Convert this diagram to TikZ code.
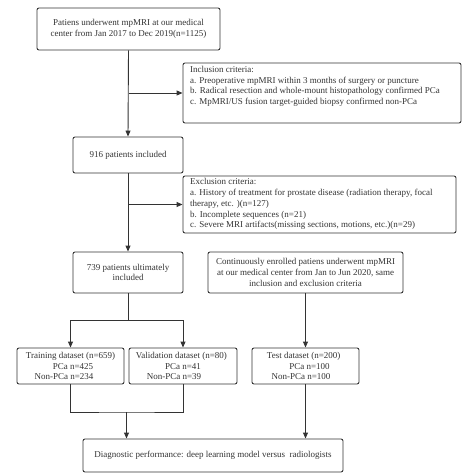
\documentclass[tikz,border=0pt]{standalone}
\usepackage{fontspec}
\setmainfont{Liberation Serif}
\usetikzlibrary{arrows.meta,positioning,calc}
\definecolor{ink}{HTML}{333333}
\begin{document}
\begin{tikzpicture}[x=1pt,y=-1pt,
  box/.style={draw=ink,line width=0.9pt,rounded corners=2pt,inner sep=2pt,align=center,text=ink,font=\fontsize{9}{10.7}\selectfont},
  txt/.style={inner sep=0pt,align=left,text=ink,font=\fontsize{9}{10.7}\selectfont,anchor=north west},
  conn/.style={draw=ink,line width=0.9pt},
  arr/.style={conn,-{Triangle[length=6pt,width=5pt]}}]
\useasboundingbox (0,0) rectangle (474,476);
\node[box,minimum width=183pt,minimum height=42pt] (b1) at (128.5,29) {Patiens underwent mpMRI at our medical\\center from Jan 2017 to Dec 2019(n=1125)};
\node[box,minimum width=278pt,minimum height=60pt] (inc) at (322,93) {};
\node[txt] (inct) at (190,66) {Inclusion criteria:\\a. Preoperative mpMRI within 3 months of surgery or puncture\\b. Radical resection and whole-mount histopathology confirmed PCa\\c. MpMRI/US fusion target-guided biopsy confirmed non-PCa};
\node[box,minimum width=110pt,minimum height=36pt] (b916) at (128,155) {916 patients included};
\node[box,minimum width=273pt,minimum height=57pt] (exc) at (319.5,204.5) {};
\node[txt] (exct) at (190,178.5) {Exclusion criteria:\\a. History of treatment for prostate disease (radiation therapy, focal\\therapy, etc. )(n=127)\\b. Incomplete sequences (n=21)\\c. Severe MRI artifacts(missing sections, motions, etc.)(n=29)};
\node[box,minimum width=110pt,minimum height=41pt] (b739) at (128,272.5) {739 patients ultimately\\included};
\node[box,minimum width=195pt,minimum height=41pt] (cont) at (305.5,272.5) {Continuously enrolled patiens underwent mpMRI\\at our medical center from Jan to Jun 2020, same\\inclusion and exclusion criteria};
\node[box,minimum width=107pt,minimum height=36pt] (train) at (70.5,366) {Training dataset (n=659)\\\hspace*{5pt}PCa n=425\\Non-PCa n=234\hspace*{13pt}};
\node[box,minimum width=108pt,minimum height=36pt] (valid) at (183,366) {Validation dataset (n=80)\hspace*{3.4pt}\\PCa n=41\\Non-PCa n=39\hspace*{18pt}};
\node[box,minimum width=107pt,minimum height=36pt] (test) at (305.5,366) {Test dataset (n=200)\hspace*{3.6pt}\\\hspace*{8pt}PCa n=100\\Non-PCa n=100\hspace*{9pt}};
\node[box,minimum width=260pt,minimum height=33pt] (diag) at (213,455.5) {Diagnostic performance: deep learning model versus~~radiologists};
\coordinate (s1) at (128,320);
\coordinate (m1) at (126.5,412);
\draw[arr] (b1.south) -- (b916.north);
\draw[arr] (b1.south |- inc.west) -- (inc.west);
\draw[arr] (b916.south) -- (b739.north);
\draw[arr] (b916.south |- exc.west) -- (exc.west);
\draw[conn] (b739.south) -- (s1);
\draw[arr] (s1) -| (train.north);
\draw[arr] (s1) -| (valid.north);
\draw[arr] (cont.south) -- (test.north);
\draw[conn] (train.south) |- (m1) -| (valid.south);
\draw[arr] (m1) -- (m1 |- diag.north);
\draw[arr] (test.south) -- (test.south |- diag.north);
\end{tikzpicture}
\end{document}
